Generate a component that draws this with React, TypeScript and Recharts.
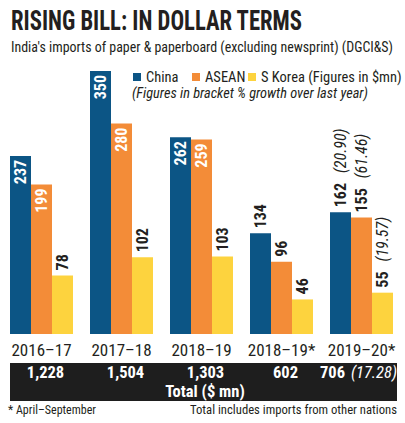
import { Bar, BarChart, LabelList, XAxis, YAxis } from "recharts";

// values in $ mn
const years = ["2016–17", "2017–18", "2018–19", "2018–19*", "2019–20*"];
const china = [237, 350, 262, 134, 162];
const asean = [199, 280, 259, 96, 155];
const korea = [78, 102, 103, 46, 55];
const totals = ["1,228", "1,504", "1,303", "602", "706"];
// % growth over last year (only printed for 2019-20*)
const chinaGrowth = [null, null, null, null, "20.90"];
const aseanGrowth = [null, null, null, null, "61.46"];
const koreaGrowth = [null, null, null, null, "19.57"];
const totalGrowth = [null, null, null, null, "17.28"];

const FONT = "'Liberation Sans Narrow', 'Roboto Condensed', Roboto, sans-serif";
const INK = "#231f20";

const series = [
  { key: "china", name: "China", color: "#0c5585", growth: chinaGrowth },
  { key: "asean", name: "ASEAN", color: "#f38c38", growth: aseanGrowth },
  { key: "korea", name: "S Korea", color: "#fdd33e", growth: koreaGrowth },
];

const data = years.map((year, i) => ({
  year,
  china: china[i],
  asean: asean[i],
  korea: korea[i],
}));

/** vertical value label: white inside tall bars, black above short ones */
function makeLabel(growth: (string | null)[]) {
  return (props: any) => {
    const vb = props.viewBox || {};
    const x = Number(props.x ?? vb.x);
    const y = Number(props.y ?? vb.y);
    const width = Number(props.width ?? vb.width);
    const value = Number(props.value);
    const g = growth[props.index];
    const cx = x + width / 2;
    if (value >= 190) {
      return (
        <text
          transform={`translate(${cx},${y + 4}) rotate(-90)`}
          textAnchor="end"
          dy="0.36em"
          fill="#fff"
          fontFamily={FONT}
          fontWeight={700}
          fontSize={16}
        >
          {value}
        </text>
      );
    }
    return (
      <text
        transform={`translate(${cx},${y - 5}) rotate(-90)`}
        textAnchor="start"
        dy="0.36em"
        fill={INK}
        fontFamily={FONT}
        fontWeight={700}
        fontSize={16}
      >
        {value}
        {g && (
          <tspan dx={10} fontWeight={400} fontStyle="italic">
            ({g})
          </tspan>
        )}
      </text>
    );
  };
}

function YearTick(props: any) {
  const { x, y, payload } = props;
  return (
    <text x={x} y={y + 22} textAnchor="middle" fill={INK} fontFamily={FONT} fontSize={17}>
      {payload.value}
    </text>
  );
}

function TotalTick(props: any) {
  const { x, y, payload } = props;
  const i = payload.index;
  const g = totalGrowth[i];
  return (
    <text
      x={g ? x - 3 : x + 4}
      y={y + 15}
      textAnchor="middle"
      fill="#fff"
      fontFamily={FONT}
      fontWeight={700}
      fontSize={16.5}
    >
      {totals[i]}
      {g && (
        <tspan dx={6} fontWeight={400} fontStyle="italic">
          ({g})
        </tspan>
      )}
    </text>
  );
}

export default function App() {
  const legendX = [133, 192, 248];
  return (
    <div style={{ position: "absolute", left: 0, top: 0, width: 405, height: 423, background: "#fff" }}>
      <svg width={405} height={423} style={{ position: "absolute", left: 0, top: 0 }}>
        <text x={11} y={30} fontFamily={FONT} fontWeight={700} fontSize={27} fill={INK} textLength={291} lengthAdjust="spacingAndGlyphs">
          RISING BILL: IN DOLLAR TERMS
        </text>
        <text x={11} y={52} fontFamily={FONT} fontSize={14} fill={INK} textLength={382} lengthAdjust="spacingAndGlyphs">
          India's imports of paper &amp; paperboard (excluding newsprint) (DGCI&amp;S)
        </text>
        {series.map((s, i) => (
          <g key={s.key}>
            <rect x={legendX[i]} y={73} width={8} height={8} fill={s.color} />
            <text x={legendX[i] + 13} y={82} fontFamily={FONT} fontSize={14.5} fill={INK}>
              {s.name}
              {i === series.length - 1 ? " (Figures in $mn)" : ""}
            </text>
          </g>
        ))}
        <text x={132} y={98} fontFamily={FONT} fontStyle="italic" fontSize={14.5} fill={INK} textLength={236} lengthAdjust="spacingAndGlyphs">
          (Figures in bracket % growth over last year)
        </text>
        <rect x={10} y={363} width={387} height={38} fill="#1e1e1e" />
        <text x={205} y={397} textAnchor="middle" fontFamily={FONT} fontWeight={700} fontSize={16.5} fill="#fff">
          Total ($ mn)
        </text>
        <text x={8} y={414} fontFamily={FONT} fontSize={12} fill={INK}>
          * April–September
        </text>
        <text x={397} y={414} textAnchor="end" fontFamily={FONT} fontSize={12} fill={INK} textLength={207} lengthAdjust="spacingAndGlyphs">
          Total includes imports from other nations
        </text>
      </svg>
      <div style={{ position: "absolute", left: 0, top: 0 }}>
        <BarChart
          width={405}
          height={423}
          data={data}
          margin={{ top: 71, right: 3.5, left: 1.5, bottom: 22 }}
          barCategoryGap={8.5}
          barGap={0}
        >
          <YAxis hide domain={[0, 350]} allowDataOverflow />
          <XAxis
            xAxisId="a-year"
            dataKey="year"
            height={29}
            axisLine={false}
            tickLine={false}
            tickSize={0}
            tickMargin={0}
            interval={0}
            tick={<YearTick />}
          />
          <XAxis
            xAxisId="b-total"
            dataKey="year"
            height={38}
            axisLine={false}
            tickLine={false}
            tickSize={0}
            tickMargin={0}
            interval={0}
            tick={<TotalTick />}
          />
          {series.map((s) => (
            <Bar key={s.key} xAxisId="a-year" dataKey={s.key} name={s.name} fill={s.color} isAnimationActive={false}>
              <LabelList dataKey={s.key} content={makeLabel(s.growth)} />
            </Bar>
          ))}
        </BarChart>
      </div>
    </div>
  );
}
